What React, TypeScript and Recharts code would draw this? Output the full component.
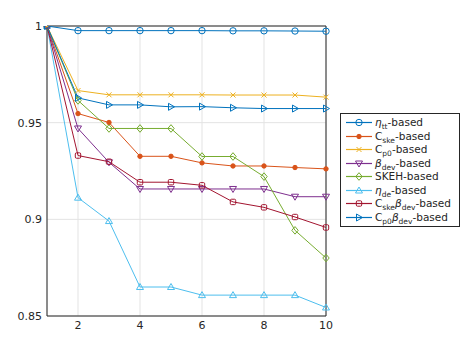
import React from "react";
import {
  CartesianGrid,
  Line,
  LineChart,
  ReferenceLine,
  XAxis,
  YAxis,
} from "recharts";

const steps = [1, 2, 3, 4, 5, 6, 7, 8, 9, 10];
const etaTt = [1, 0.9976, 0.9976, 0.9976, 0.9976, 0.9976, 0.9975, 0.9975, 0.9974, 0.9973];
const cSke = [1, 0.9547, 0.9501, 0.9326, 0.9326, 0.9292, 0.9276, 0.9276, 0.9268, 0.9261];
const cP0 = [1, 0.9666, 0.9644, 0.9644, 0.9644, 0.9644, 0.9643, 0.9643, 0.9643, 0.9632];
const betaDev = [1, 0.947, 0.9295, 0.9157, 0.9157, 0.9157, 0.9157, 0.9157, 0.9117, 0.9117];
const skeh = [1, 0.9615, 0.947, 0.947, 0.947, 0.9325, 0.9325, 0.9221, 0.8943, 0.88];
const etaDe = [1, 0.9112, 0.8991, 0.865, 0.865, 0.8608, 0.8608, 0.8608, 0.8608, 0.8544];
const cSkeBeta = [1, 0.933, 0.9298, 0.9192, 0.9192, 0.9176, 0.909, 0.9062, 0.9012, 0.8958];
const cP0Beta = [1, 0.9628, 0.9592, 0.9592, 0.9582, 0.9583, 0.9577, 0.9573, 0.9573, 0.9573];

const xTicks = [2, 4, 6, 8, 10];
const yTicks = [0.85, 0.9, 0.95, 1];

const data = steps.map((s, i) => ({
  step: s,
  etaTt: etaTt[i],
  cSke: cSke[i],
  cP0: cP0[i],
  betaDev: betaDev[i],
  skeh: skeh[i],
  etaDe: etaDe[i],
  cSkeBeta: cSkeBeta[i],
  cP0Beta: cP0Beta[i],
}));

type Shape = "o" | "*" | "x" | "v" | "d" | "^" | "s" | ">";

const marker = (shape: Shape, cx: number, cy: number, color: string, key?: any) => {
  const p = { stroke: color, strokeWidth: 1, fill: "none" };
  switch (shape) {
    case "o":
      return <circle key={key} cx={cx} cy={cy} r={3.2} {...p} />;
    case "*":
      return <circle key={key} cx={cx} cy={cy} r={2.2} fill={color} stroke={color} />;
    case "x":
      return (
        <path key={key} d={`M${cx - 2.5},${cy - 2.5}L${cx + 2.5},${cy + 2.5}M${cx - 2.5},${cy + 2.5}L${cx + 2.5},${cy - 2.5}`} {...p} />
      );
    case "v":
      return <path key={key} d={`M${cx - 3.5},${cy - 2.5}L${cx + 3.5},${cy - 2.5}L${cx},${cy + 3.5}Z`} {...p} />;
    case "^":
      return <path key={key} d={`M${cx - 3.5},${cy + 2.5}L${cx + 3.5},${cy + 2.5}L${cx},${cy - 3.5}Z`} {...p} />;
    case "d":
      return <path key={key} d={`M${cx},${cy - 3.8}L${cx + 3.2},${cy}L${cx},${cy + 3.8}L${cx - 3.2},${cy}Z`} {...p} />;
    case "s":
      return <rect key={key} x={cx - 2.7} y={cy - 2.7} width={5.4} height={5.4} rx={1.2} {...p} />;
    case ">":
      return <path key={key} d={`M${cx - 2.5},${cy - 3.5}L${cx - 2.5},${cy + 3.5}L${cx + 3.5},${cy}Z`} {...p} />;
  }
};

const series: { key: string; color: string; shape: Shape; label: React.ReactNode }[] = [
  { key: "etaTt", color: "#0072BD", shape: "o", label: <><i>η</i><sub>tt</sub>-based</> },
  { key: "cSke", color: "#D95319", shape: "*", label: <>C<sub>ske</sub>-based</> },
  { key: "cP0", color: "#EDB120", shape: "x", label: <>C<sub>p0</sub>-based</> },
  { key: "betaDev", color: "#7E2F8E", shape: "v", label: <><i>β</i><sub>dev</sub>-based</> },
  { key: "skeh", color: "#77AC30", shape: "d", label: <>SKEH-based</> },
  { key: "etaDe", color: "#4DBEEE", shape: "^", label: <><i>η</i><sub>de</sub>-based</> },
  { key: "cSkeBeta", color: "#A2142F", shape: "s", label: <>C<sub>ske</sub><i>β</i><sub>dev</sub>-based</> },
  { key: "cP0Beta", color: "#0072BD", shape: ">", label: <>C<sub>p0</sub><i>β</i><sub>dev</sub>-based</> },
];

const LegendBox = () => (
  <div
    style={{
      position: "absolute",
      left: 340,
      top: 113,
      border: "1px solid #262626",
      background: "#fff",
      padding: "2px 4px 2px 4px",
      fontFamily: "DejaVu Sans",
      fontSize: 10.5,
      color: "#262626",
      lineHeight: "13.5px",
      width: 110,
    }}
  >
    {series.map((s) => (
      <div key={s.key} style={{ display: "flex", alignItems: "center", height: 13.5, whiteSpace: "nowrap" }}>
        <svg width={28} height={13} style={{ marginRight: 2, flexShrink: 0 }}>
          <line x1={1} y1={6.5} x2={27} y2={6.5} stroke={s.color} strokeWidth={1.2} />
          {marker(s.shape, 14, 6.5, s.color)}
        </svg>
        <span style={{ fontSize: 10.5 }}>{s.label}</span>
      </div>
    ))}
    <style>{`sub{font-size:7.5px;vertical-align:-3px;line-height:0}`}</style>
  </div>
);

export default function App() {
  return (
    <div style={{ position: "absolute", left: 0, top: 0, width: 474, height: 355 }}>
      <LineChart
        width={474}
        height={355}
        data={data}
        margin={{ top: 26, right: 148, bottom: 19, left: 0 }}
        style={{ fontFamily: "DejaVu Sans" }}
      >
        <CartesianGrid stroke="#e3e3e3" strokeWidth={1} />
        <XAxis
          dataKey="step"
          type="number"
          domain={[1, 10]}
          ticks={xTicks}
          stroke="#262626"
          tickLine={false}
          tickSize={0}
          tick={{ fill: "#262626", fontSize: 11 }}
          height={20}
          tickMargin={5}
        />
        <YAxis
          type="number"
          domain={[0.85, 1]}
          ticks={yTicks}
          stroke="#262626"
          tickLine={false}
          tickSize={0}
          tick={{ fill: "#262626", fontSize: 11 }}
          width={47}
          tickMargin={5}
          allowDataOverflow
        />
        <ReferenceLine y={1} stroke="#262626" />
        <ReferenceLine x={10} stroke="#262626" />
        {series.map((s) => (
          <Line
            key={s.key}
            dataKey={s.key}
            type="linear"
            stroke={s.color}
            strokeWidth={1}
            isAnimationActive={false}
            dot={(props: any) => marker(s.shape, props.cx, props.cy, s.color, props.key ?? props.index)}
            activeDot={false}
          />
        ))}
      </LineChart>
      <LegendBox />
    </div>
  );
}
